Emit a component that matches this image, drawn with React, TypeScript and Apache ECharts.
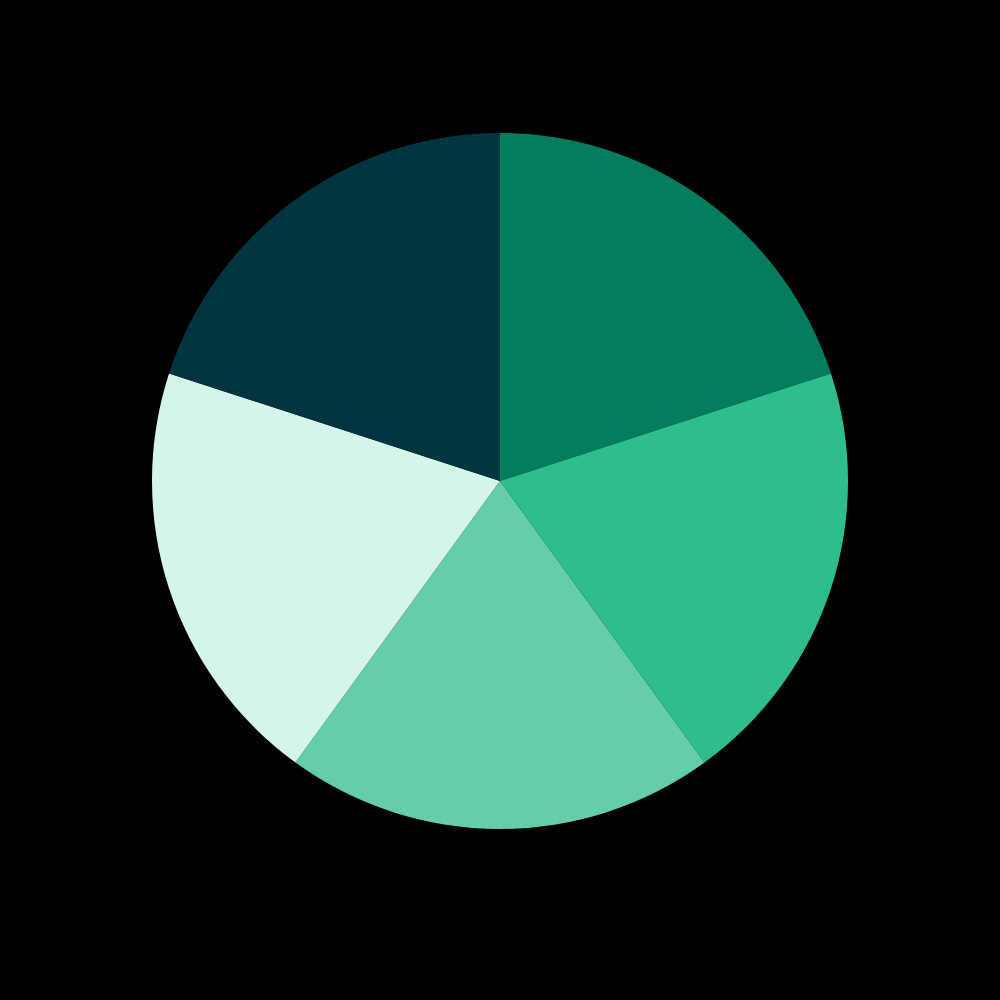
import React, { useEffect, useRef } from 'react';
import * as echarts from 'echarts';

const CATEGORIES = ['A', 'B', 'C', 'D', 'E'];
const VALUES = [20, 20, 20, 20, 20];
const PALETTE = ['#047d5f', '#2ebd8c', '#64cdac', '#d5f4ea', '#033540'];

const App: React.FC = () => {
  const divEL = useRef<HTMLDivElement>(null);

  useEffect(() => {
    document.body.style.margin = '0';
    document.body.style.background = '#000000';
    const instance = echarts.init(divEL.current as any, undefined, { renderer: 'svg' });
    const option: echarts.EChartsOption = {
      animation: false,
      backgroundColor: '#000000',
      color: PALETTE,
      series: [
        {
          type: 'pie',
          center: [500, 481],
          radius: 348,
          startAngle: 90,
          clockwise: true,
          label: { show: false },
          labelLine: { show: false },
          itemStyle: { borderWidth: 0 },
          emphasis: { disabled: true },
          data: CATEGORIES.map((name, i) => ({ name, value: VALUES[i] })),
        },
      ],
    };
    instance.setOption(option);
    return () => {
      instance.dispose();
    };
  }, []);

  return <div ref={divEL} style={{ width: 1000, height: 1000 }}></div>;
};

export default App;
